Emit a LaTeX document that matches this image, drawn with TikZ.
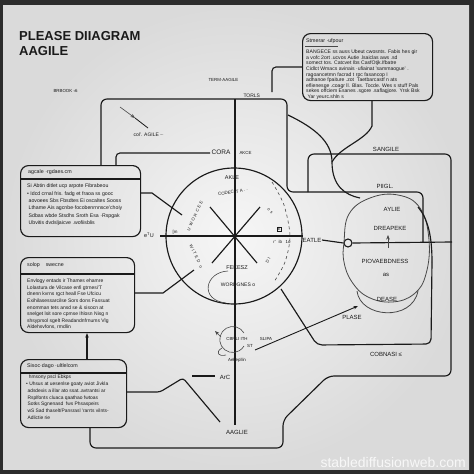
\documentclass[tikz,border=0pt]{standalone}
\usepackage{fontspec}
\setmainfont{Liberation Sans}
\usetikzlibrary{arrows.meta}
\definecolor{frame}{HTML}{2C2C2C}
\definecolor{paperin}{HTML}{F6F6F6}
\definecolor{paperout}{HTML}{DADADA}
\definecolor{ink}{HTML}{1A1A1A}
\tikzset{
 ln/.style={draw=ink, line width=1.15pt},
 fine/.style={draw=ink!80, line width=0.6pt},
 panel/.style={draw=ink, line width=1.15pt, rounded corners=8pt, anchor=north west, inner sep=0pt},
 body/.style={font=\fontsize{5}{7}\selectfont, text=ink, anchor=north west, align=left, inner sep=0pt},
 hdr/.style={font=\fontsize{5.3}{6}\selectfont, text=ink, anchor=west, inner sep=0pt},
 lbl/.style={font=\fontsize{6}{6}\selectfont, text=ink, inner sep=0.5pt},
 tiny/.style={font=\fontsize{4.4}{5}\selectfont, text=ink, inner sep=0.3pt},
 spaced/.style={font=\fontsize{4.2}{5}\selectfont\addfontfeature{LetterSpace=40}, text=ink, inner sep=0.3pt},
 ttl/.style={font=\bfseries\fontsize{13}{15}\selectfont, text=ink, anchor=base west, inner sep=0pt},
 tip/.style={-{Stealth[length=4.5pt,width=3.5pt]}},
}
\begin{document}
\begin{tikzpicture}[x=1pt,y=-1pt]
\useasboundingbox (0,0) rectangle (474,474);
\fill[frame] (0,0) rectangle (474,474);
\shade[inner color=paperin, outer color=paperout] (3,5) rectangle (469,469);

% title
\node[ttl] (t1) at (19,40) {PLEASE DIIAGRAM};
\node[ttl] (t2) at (19,55) {AAGILE};

% small labels top
\node[tiny, anchor=west] (brb) at (53,91) {BRBOOK ‹6};
\node[tiny, anchor=west] (term) at (208,80) {TERM·AAGILE};
\node[tiny, anchor=west, font=\fontsize{5}{5}\selectfont] (torls) at (243,96) {TORLS};
\node[tiny, anchor=west, font=\fontsize{5}{5}\selectfont] (colag) at (133,135) {col'. AGILE -·};
\coordinate (a1) at (120,107);
\coordinate (a2) at (135,118);
\coordinate (a3) at (148,128);
\draw[fine, tip] (a1) -- (a2);
\draw[ln, line width=0.8pt] (a2) -- (a3);

% top right text box
\node[panel, minimum width=130, minimum height=67] (tr) at (302,33) {};
\node[hdr] (trh) at (306,41) {Stmerar ·ufpour};
\draw[fine] (305,46) -- (338,46);
\node[body, font=\fontsize{5.1}{5.55}\selectfont] (trb) at (306,50) {BANGECE ss auss Ubeut cwosnts. Fabis hes gir\\
a vofc 2ort .ucvos Autie .lsaiclas aws .sd\\
somect tos. Catcvet Ibs CasfOtjk.Ifbatre\\
Cidlct Wmacs avinais ·ufiainat 'sammaogue' .\\
ragoancetmn facrad t rpc fasancop I\\
adhanoe fpaiture .zot \ Taetbarcastf n ats\\
eflienesge .coagr ll. Blas. Tocde. Wes s stuff Pals\\
sekes offciem Esanes .sgore .saflagjore. Yrsk Bsk\\
\ Yar yeurc.shln s};

% left boxes
\node[panel, minimum width=120, minimum height=71] (b1) at (20,165) {};
\draw[ln] (b1.west |- 0,179) -- (b1.east |- 0,179);
\node[hdr] (b1h) at (28,172) {agcale ·rgdaes.cm};
\node[body, font=\fontsize{5.2}{7.3}\selectfont] (b1b) at (27,184) {Si Abtin ditlet ucp arpote Fibrabeou\\
• Idcd crnal fris. fadg et fraoa ss gooc\\
\ aovoees Sbs Fbsdtes Ei oscaltes Sooss\\
\ Lthame Ais agcnbe·focobenrnnsce'choiy\\
\ Sdbas wbde Stsdhs Sroth Esa ·Rspgak\\
\ Ubvitis dvdsljaicve .wofiisblis};

\node[panel, minimum width=114, minimum height=75] (b2) at (20,257) {};
\draw[ln] (b2.west |- 0,274) -- (b2.east |- 0,274);
\node[hdr] (b2h) at (27,265) {solop \ \ \ swecne};
\node[body, font=\fontsize{5}{6.55}\selectfont] (b2b) at (27,279) {Envlogy entads ir Thames ehamre\\
Lolastura de Vilcase enfi gtrnesi'T\\
dnenn kvrns rgct heall Fse Ufcicu\\
Exihilasessarcilse Sors dons Fassuat\\
enomman tets ansd se \& sisocn at\\
snelget lsit sore cpmse Ihlosn Nisg n\\
shsyprsol sgelt Readandnfrnums Vlg\\
Aldehsvfons, rmdlin};

\node[panel, minimum width=106, minimum height=68] (b3) at (20,359) {};
\draw[ln] (b3.west |- 0,373) -- (b3.east |- 0,373);
\node[hdr] (b3h) at (27,366) {Sisoc·dago ·ultlelcom};
\node[body, font=\fontsize{4.9}{6.8}\selectfont] (b3b) at (26,375) {\ \ hmsony pscl Ebkps\\
• Uhsus at uesenlse goaty aviot Jivkla\\
\ adsdexis a illar ato ssat..avtrantsi ar\\
\ Rsplfonts cluaca qaathao fwtoas\\
\ Sotks Sgnenasd \ fws Phsaspeirs\\
\ wS Sad thaselt/Pansrasl 'rarrts vilnts-\\
\ Adlictie rie};

% big frame lines
\draw[ln, rounded corners=6] (b1.north -| 101,0) -- (101,99) -- (287,99) -- (287,192) -- (423,192) -- (423,242);
\draw[ln, rounded corners=4] (b1.north -| 116,0) -- (116,153) -- (210,153);
\node[lbl, anchor=west, font=\fontsize{6.5}{6.5}\selectfont] (cora) at (211,152) {CORA};
\node[tiny, anchor=west] (akce) at (239,153) {AKCE};
\draw[ln] (235,99) -- (235,425);
\node[lbl] (aaglie) at (237,432) {AAGLIE};

% connectors from top right box
\draw[ln, rounded corners=4] (tr.west |- 0,67) -- (272,67) -- (272,92);
\coordinate (mg) at (332,162);
\draw[ln] (tr.south -| 372,0) -- (372,126) .. controls (366,140) and (340,147) .. (mg);
\draw[ln] (288,115) .. controls (315,128) and (332,142) .. (mg) .. controls (332,186) and (345,195) .. (360,198);

% SANGILE loop
\draw[ln, rounded corners=6] (b3.south -| 90,0) -- (90,448) -- (283,448) -- (283,420) -- (328,376) -- (451,376) -- (451,154) -- (308,154) -- (308,192);
\node[lbl] (sangile) at (386,149) {SANGILE};
\draw[ln] (192,376) -- (215,376);
\node[lbl] (arc) at (225,377) {ArC};

% circle
\coordinate (c) at (234,236);
\node[draw=ink, line width=1.15pt, circle, minimum size=136, inner sep=0pt] (circ) at (c) {};
\draw[ln] (160,236) -- (circ.east);
\draw[ln] (210,207) -- (257,263);
\draw[ln] (260,207) -- (212,263);
\draw[fine, dashed] plot[smooth] coordinates {(272,182) (284,205) (290,236) (285,262) (274,282)};
\draw[fine] (228,271) .. controls (205,272) and (199,300) .. (226,303);
\node[lbl, font=\fontsize{5.5}{5.5}\selectfont] (akle) at (232,178) {AKLE};
\node[tiny, rotate=8] (codec) at (233,192) {CODECLT A . ·};
\node[spaced, rotate=65] (uwor) at (195,216) {UWORCEE};
\node[spaced, rotate=-65] (wited) at (196,256) {WITED o};
\node[spaced, rotate=-50] (os) at (270,211) {os};
\node[spaced, rotate=65] (di) at (268,260) {DI};
\node[tiny, draw=ink, line width=0.4pt, inner sep=0.6pt] (ei) at (279,229) {E};
\node[tiny] (rf) at (282,242) {r' \ ib \ \ 1o};
\node[tiny] (lm) at (175,232) {[m};
\node[lbl, font=\fontsize{5.5}{5.5}\selectfont] (fek) at (237,268) {FEKESZ};
\node[lbl, font=\fontsize{5}{5}\selectfont] (word) at (238,285) {WORDGNES o};
\node[lbl, font=\fontsize{5.5}{5.5}\selectfont] (etu) at (149,235) {e\textsuperscript{T}U};

% connectors from left boxes
\draw[ln] (b1.east |- 0,193) -- (152,193) -- (182,215);
\draw[ln] (b2.east |- 0,293) -- (163,293) -- (194,270);
\draw[ln, rounded corners=3] (b3.east |- 0,392) -- (160,392) -- (183,378) -- (220,422);
\draw[ln, tip] (b3.north -| 87,0) -- (b2.south -| 87,0);

% right blob
\node[lbl, anchor=west] (eatle) at (302,240) {EATLE};
\node[draw=ink, line width=1.1pt, circle, minimum size=8, inner sep=0pt] (loop) at (348,243) {};
\draw[ln] (eatle.east) -- (loop.west);
\draw[ln] (loop.east) -- (452,242);
\draw[fine, line width=0.8pt] plot[smooth cycle, tension=0.7] coordinates {(344,242) (349,214) (370,198) (398,195) (420,208) (429,240) (426,274) (414,294) (392,302) (368,297) (352,282) (344,262)};
\draw[fine, line width=0.8pt] (357,291) .. controls (360,318) and (412,322) .. (418,291);
\draw[ln, rounded corners=5] (281,289) -- (317,345) -- (431,344) -- (432,262);
\draw[ln] (432,262) .. controls (432,236) and (428,219) .. (418,207);
\draw[fine, tip] (388,248) -- (388,235);
\node[lbl] (piigl) at (385,186) {PIIGL.};
\node[lbl] (aylie) at (392,209) {AYLIE};
\node[lbl] (drea) at (390,228) {DREAPEKE};
\node[lbl] (piov) at (385,261) {PIOVAEBDNESS};
\node[lbl] (as) at (386,275) {as};
\node[lbl] (dease) at (387,299) {DEASE};
\node[lbl] (plase) at (352,317) {PLASE};
\node[lbl] (cob) at (386,354) {COBNASI ≤};

% swirl cluster
\draw[fine] (244,333) arc[start angle=-30, end angle=-330, radius=13];
\draw[fine] (222,348) .. controls (215,352) and (218,357) .. (226,355);
\draw[fine, tip] (221,337) -- (215,331);
\node[tiny] (cbr) at (237,339) {CBRLI ITH};
\node[tiny] (slipa) at (266,339) {SLIPA};
\node[tiny] (st) at (250,346) {ST};
\node[tiny] (aek) at (237,360) {Aekepllin};
\coordinate (ps) at (255,350);
\draw[ln, line width=0.9pt, tip] (ps) -- (358,306);

% watermark
\node[font=\fontsize{14}{14}\selectfont, text=white, opacity=0.8, anchor=base east, inner sep=0pt] (wm) at (466,467) {stablediffusionweb.com};
\end{tikzpicture}
\end{document}
